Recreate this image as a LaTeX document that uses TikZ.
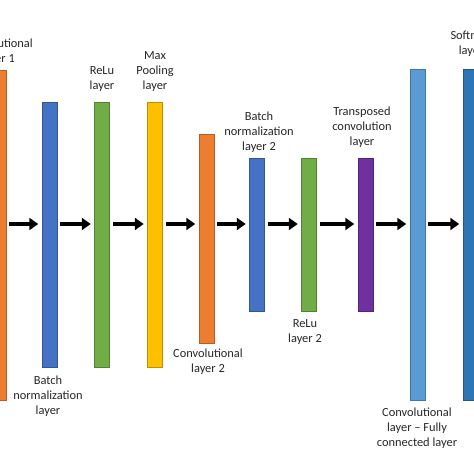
\documentclass[tikz,border=0pt]{standalone}
\usepackage{fontspec}
\setmainfont{Carlito}
\usepackage{xcolor}
\usetikzlibrary{arrows.meta}
\definecolor{convorange}{HTML}{ED7D31}
\definecolor{normblue}{HTML}{4472C4}
\definecolor{relugreen}{HTML}{70AD47}
\definecolor{poolyellow}{HTML}{FFC000}
\definecolor{transpurple}{HTML}{7030A0}
\definecolor{fcblue}{HTML}{5B9BD5}
\definecolor{softblue}{HTML}{2E75B6}

\begin{document}
\begin{tikzpicture}[x=1pt, y=-1pt,
    bar/.style={draw=#1!75!black, fill=#1, line width=0.5pt, minimum width=15pt, inner sep=0pt},
    lbl/.style={align=center, text=black!85, font=\fontsize{12.4}{15}\selectfont, inner sep=0pt},
    flow/.style={line width=3.6pt, -{Triangle[length=9pt,width=12pt]}, shorten <=3pt, shorten >=3.5pt}]
        \path[use as bounding box, clip] (0,0) rectangle (474,474);
        \coordinate (ay) at (0,224);

        % Layers
        \node[bar=convorange, minimum height=330] (b1) at (-1.5,235) {};
        \node[bar=normblue, minimum height=265] (b2) at (49.5,234.5) {};
        \node[bar=relugreen, minimum height=265] (b3) at (102,234.5) {};
        \node[bar=poolyellow, minimum height=265] (b4) at (155,234.5) {};
        \node[bar=convorange, minimum height=209] (b5) at (206.5,238.5) {};
        \node[bar=normblue, minimum height=153] (b6) at (257,234.5) {};
        \node[bar=relugreen, minimum height=153] (b7) at (309,234.5) {};
        \node[bar=transpurple, minimum height=153] (b8) at (365.5,234.5) {};
        \node[bar=fcblue, minimum height=331] (b9) at (417.5,234.5) {};
        \node[bar=softblue, minimum height=331] (b10) at (470.5,234.5) {};

        % Labels above
        \node[lbl] (l1) at (-2,51.5) {Convolutional\\layer 1};
        \node[lbl] (l3) at (102,79.5) {ReLu\\layer};
        \node[lbl] (l4) at (155,72) {Max\\Pooling\\layer};
        \node[lbl] (l6) at (259,132.5) {Batch\\normalization\\layer 2};
        \node[lbl] (l8) at (362,127.5) {Transposed\\convolution\\layer};
        \node[lbl] (l10) at (471,44) {Softmax\\layer};

        % Labels below
        \node[lbl] (l2) at (48,396.5) {Batch\\normalization\\layer};
        \node[lbl] (l5) at (208,362) {Convolutional\\layer 2};
        \node[lbl] (l7) at (305,332) {ReLu\\layer 2};
        \node[lbl] (l9) at (417,428) {Convolutional\\layer – Fully\\connected layer};

        % Flow
        \draw[flow] (b1.east |- ay) -- (b2.west |- ay);
        \draw[flow] (b2.east |- ay) -- (b3.west |- ay);
        \draw[flow] (b3.east |- ay) -- (b4.west |- ay);
        \draw[flow] (b4.east |- ay) -- (b5.west |- ay);
        \draw[flow] (b5.east |- ay) -- (b6.west |- ay);
        \draw[flow] (b6.east |- ay) -- (b7.west |- ay);
        \draw[flow] (b7.east |- ay) -- (b8.west |- ay);
        \draw[flow] (b8.east |- ay) -- (b9.west |- ay);
        \draw[flow] (b9.east |- ay) -- (b10.west |- ay);
\end{tikzpicture}
\end{document}
